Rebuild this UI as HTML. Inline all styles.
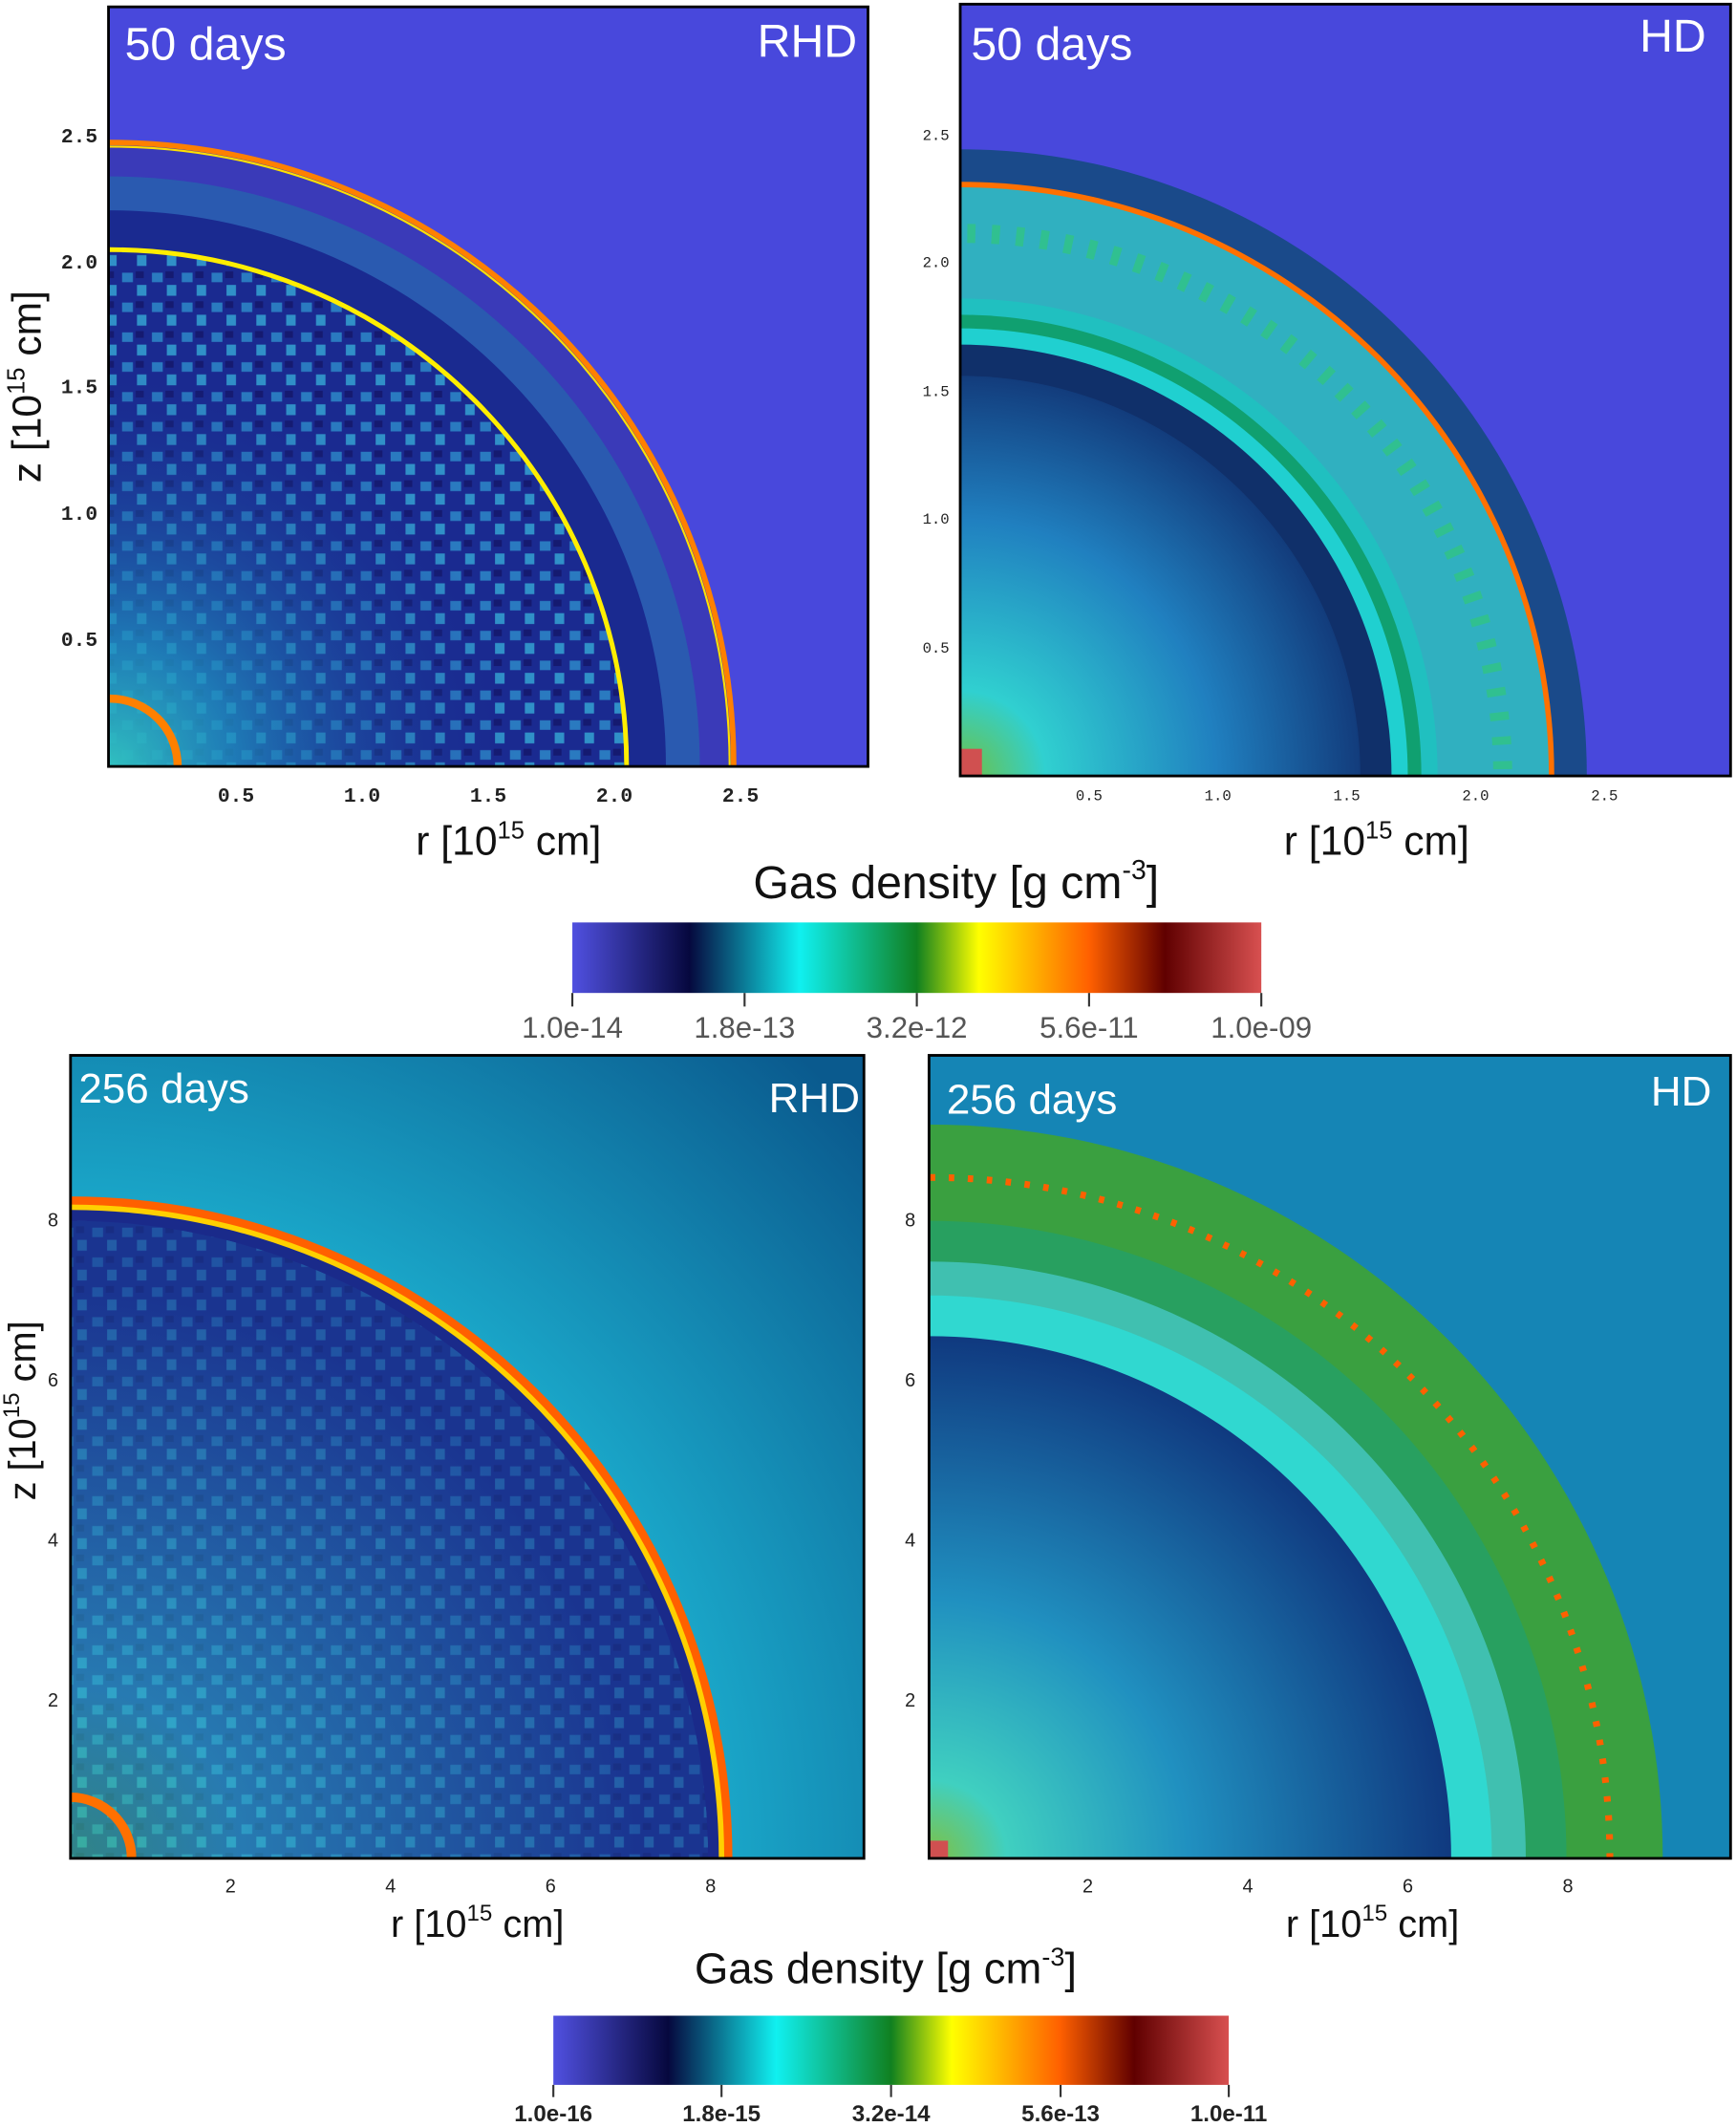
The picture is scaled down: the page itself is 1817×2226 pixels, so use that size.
<!DOCTYPE html>
<html><head><meta charset="utf-8"><style>html,body{margin:0;padding:0;background:#fff;width:1817px;height:2226px;overflow:hidden}svg{display:block}</style></head><body>
<svg width="1817" height="2226" viewBox="0 0 1280 1568" xmlns="http://www.w3.org/2000/svg" font-family="Liberation Sans, sans-serif">
<defs>
<linearGradient id="cmap" x1="0" x2="1" y1="0" y2="0">
<stop offset="0" stop-color="#5050e0"/><stop offset="0.17" stop-color="#06083e"/><stop offset="0.33" stop-color="#10f0f0"/><stop offset="0.5" stop-color="#108020"/><stop offset="0.59" stop-color="#ffff00"/><stop offset="0.75" stop-color="#ff6000"/><stop offset="0.86" stop-color="#600000"/><stop offset="1" stop-color="#d85050"/>
</linearGradient>
<pattern id="mott" width="22" height="22" patternUnits="userSpaceOnUse">
<rect width="22" height="22" fill="#1a2a90"/><rect x="2" y="3" width="8" height="7" fill="#2a7ac0"/><rect x="13" y="12" width="7" height="8" fill="#3090c8"/><rect x="12" y="2" width="6" height="5" fill="#151a70"/>
</pattern>
<radialGradient id="core1" cx="81" cy="565" r="300" gradientUnits="userSpaceOnUse">
<stop offset="0" stop-color="#30c0c0"/><stop offset="0.3" stop-color="#2090c0" stop-opacity="0.8"/><stop offset="1" stop-color="#1a2a90" stop-opacity="0"/></radialGradient>
<radialGradient id="bgBL" cx="52" cy="1370" r="800" gradientUnits="userSpaceOnUse">
<stop offset="0.55" stop-color="#1cb0d0"/><stop offset="1" stop-color="#0a5a8e"/></radialGradient>
<radialGradient id="core3" cx="52" cy="1370" r="420" gradientUnits="userSpaceOnUse">
<stop offset="0" stop-color="#40c080"/><stop offset="0.3" stop-color="#30b0c8"/><stop offset="1" stop-color="#1a3a90"/></radialGradient>
<radialGradient id="core4" cx="685" cy="1370" r="383" gradientUnits="userSpaceOnUse">
<stop offset="0" stop-color="#80c040"/><stop offset="0.15" stop-color="#40d0c0"/><stop offset="0.5" stop-color="#2090c0"/><stop offset="1" stop-color="#103a80"/></radialGradient>
<radialGradient id="core2" cx="708" cy="572" r="314" gradientUnits="userSpaceOnUse">
<stop offset="0" stop-color="#70c040"/><stop offset="0.2" stop-color="#30d0d0"/><stop offset="0.6" stop-color="#2080c0"/><stop offset="1" stop-color="#103070"/></radialGradient>
<clipPath id="c1"><rect x="80" y="5" width="560" height="560"/></clipPath>
<clipPath id="c2"><rect x="708" y="3" width="568" height="569"/></clipPath>
<clipPath id="c3"><rect x="52" y="778" width="585" height="592"/></clipPath>
<clipPath id="c4"><rect x="685" y="778" width="591" height="592"/></clipPath>
</defs>
<g clip-path="url(#c1)">
<rect x="80" y="5" width="560" height="560" fill="#4848dc"/>
<circle cx="81" cy="565" r="460" fill="#3a3ab8"/>
<circle cx="81" cy="565" r="435" fill="#2a5ab0"/>
<circle cx="81" cy="565" r="410" fill="#1a2a90"/>
<circle cx="81" cy="565" r="382" fill="url(#mott)"/>
<circle cx="81" cy="565" r="382" fill="url(#core1)"/>
<circle cx="81" cy="565" r="460" fill="none" stroke="#ff8000" stroke-width="4"/>
<circle cx="81" cy="565" r="457" fill="none" stroke="#ffe000" stroke-width="1.5"/>
<circle cx="81" cy="565" r="381" fill="none" stroke="#ffee00" stroke-width="3.5"/>
<circle cx="81" cy="565" r="50" fill="none" stroke="#ff8000" stroke-width="6"/>
</g>
<rect x="80" y="5" width="560" height="560" fill="none" stroke="#000" stroke-width="2"/>
<g clip-path="url(#c2)">
<rect x="708" y="3" width="568" height="569" fill="#4848dc"/>
<circle cx="708" cy="572" r="462" fill="#1a4a8a"/>
<circle cx="708" cy="572" r="438" fill="#ff7000"/>
<circle cx="708" cy="572" r="434" fill="#30b0c0"/>
<circle cx="708" cy="572" r="400" fill="none" stroke="#30c090" stroke-width="14" stroke-dasharray="6 12"/>
<circle cx="708" cy="572" r="352" fill="#20c0c0"/>
<circle cx="708" cy="572" r="340" fill="#10a070"/>
<circle cx="708" cy="572" r="330" fill="#20d0d0"/>
<circle cx="708" cy="572" r="318" fill="#10306a"/>
<circle cx="708" cy="572" r="295" fill="url(#core2)"/>
<rect x="708" y="552" width="16" height="20" fill="#d05050"/>
</g>
<rect x="708" y="3" width="568" height="569" fill="none" stroke="#000" stroke-width="2"/>
<g clip-path="url(#c3)">
<rect x="52" y="778" width="585" height="592" fill="url(#bgBL)"/>
<circle cx="52" cy="1370" r="488" fill="#ff6000"/>
<circle cx="52" cy="1370" r="482" fill="#ffd000"/>
<circle cx="52" cy="1370" r="478" fill="#1a2a8a"/>
<circle cx="52" cy="1370" r="470" fill="url(#mott)"/>
<circle cx="52" cy="1370" r="470" fill="url(#core3)" opacity="0.6"/>
<circle cx="52" cy="1370" r="45" fill="none" stroke="#ff7000" stroke-width="7"/>
</g>
<rect x="52" y="778" width="585" height="592" fill="none" stroke="#000" stroke-width="2"/>
<g clip-path="url(#c4)">
<rect x="685" y="778" width="591" height="592" fill="#1585b5"/>
<circle cx="685" cy="1370" r="541" fill="#3aa040"/>
<circle cx="685" cy="1370" r="502" fill="none" stroke="#ff6000" stroke-width="5" stroke-dasharray="4 10"/>
<circle cx="685" cy="1370" r="470" fill="#28a060"/>
<circle cx="685" cy="1370" r="440" fill="#40c0b0"/>
<circle cx="685" cy="1370" r="415" fill="#30d8d0"/>
<circle cx="685" cy="1370" r="385" fill="url(#core4)"/>
<rect x="685" y="1357" width="14" height="13" fill="#d05050"/>
</g>
<rect x="685" y="778" width="591" height="592" fill="none" stroke="#000" stroke-width="2"/>
<g fill="#fff" font-size="34">
<text x="92" y="44">50 days</text><text x="632" y="42" text-anchor="end">RHD</text>
<text x="716" y="44">50 days</text><text x="1258" y="38" text-anchor="end">HD</text>
<text x="58" y="813" font-size="31">256 days</text><text x="634" y="820" text-anchor="end" font-size="31">RHD</text>
<text x="698" y="821" font-size="31">256 days</text><text x="1262" y="815" text-anchor="end" font-size="31">HD</text>
</g>
<g font-family="Liberation Mono, monospace" font-weight="bold" font-size="15" fill="#222">
<text x="174" y="591" text-anchor="middle">0.5</text><text x="267" y="591" text-anchor="middle">1.0</text><text x="360" y="591" text-anchor="middle">1.5</text><text x="453" y="591" text-anchor="middle">2.0</text><text x="546" y="591" text-anchor="middle">2.5</text>
<text x="72" y="105" text-anchor="end">2.5</text><text x="72" y="198" text-anchor="end">2.0</text><text x="72" y="290" text-anchor="end">1.5</text><text x="72" y="383" text-anchor="end">1.0</text><text x="72" y="476" text-anchor="end">0.5</text>
</g>
<g font-family="Liberation Mono, monospace" font-size="11" fill="#222">
<text x="803" y="590" text-anchor="middle">0.5</text><text x="898" y="590" text-anchor="middle">1.0</text><text x="993" y="590" text-anchor="middle">1.5</text><text x="1088" y="590" text-anchor="middle">2.0</text><text x="1183" y="590" text-anchor="middle">2.5</text>
<text x="700" y="103" text-anchor="end">2.5</text><text x="700" y="197" text-anchor="end">2.0</text><text x="700" y="292" text-anchor="end">1.5</text><text x="700" y="386" text-anchor="end">1.0</text><text x="700" y="481" text-anchor="end">0.5</text>
</g>
<g font-size="14" fill="#222">
<text x="170" y="1395" text-anchor="middle">2</text><text x="288" y="1395" text-anchor="middle">4</text><text x="406" y="1395" text-anchor="middle">6</text><text x="524" y="1395" text-anchor="middle">8</text>
<text x="43" y="904" text-anchor="end">8</text><text x="43" y="1022" text-anchor="end">6</text><text x="43" y="1140" text-anchor="end">4</text><text x="43" y="1258" text-anchor="end">2</text>
<text x="802" y="1395" text-anchor="middle">2</text><text x="920" y="1395" text-anchor="middle">4</text><text x="1038" y="1395" text-anchor="middle">6</text><text x="1156" y="1395" text-anchor="middle">8</text>
<text x="675" y="904" text-anchor="end">8</text><text x="675" y="1022" text-anchor="end">6</text><text x="675" y="1140" text-anchor="end">4</text><text x="675" y="1258" text-anchor="end">2</text>
</g>
<g font-size="30" fill="#111">
<text x="375" y="630" text-anchor="middle">r [10<tspan font-size="18" dy="-12">15</tspan><tspan dy="12"> cm]</tspan></text>
<text x="1015" y="630" text-anchor="middle">r [10<tspan font-size="18" dy="-12">15</tspan><tspan dy="12"> cm]</tspan></text>
<text x="352" y="1428" text-anchor="middle" font-size="28">r [10<tspan font-size="17" dy="-12">15</tspan><tspan dy="12"> cm]</tspan></text>
<text x="1012" y="1428" text-anchor="middle" font-size="28">r [10<tspan font-size="17" dy="-12">15</tspan><tspan dy="12"> cm]</tspan></text>
<text transform="translate(30,285) rotate(-90)" text-anchor="middle">z [10<tspan font-size="18" dy="-12">15</tspan><tspan dy="12"> cm]</tspan></text>
<text transform="translate(26,1040) rotate(-90)" text-anchor="middle" font-size="28">z [10<tspan font-size="17" dy="-12">15</tspan><tspan dy="12"> cm]</tspan></text>
<text x="705" y="662" text-anchor="middle" font-size="34">Gas density [g cm<tspan font-size="20" dy="-14">-3</tspan><tspan dy="14">]</tspan></text>
<text x="653" y="1462" text-anchor="middle" font-size="32">Gas density [g cm<tspan font-size="19" dy="-13">-3</tspan><tspan dy="13">]</tspan></text>
</g>
<rect x="422" y="680" width="508" height="52" fill="url(#cmap)"/>
<g stroke="#333" stroke-width="1.5"><line x1="422" y1="732" x2="422" y2="742"/><line x1="549" y1="732" x2="549" y2="742"/><line x1="676" y1="732" x2="676" y2="742"/><line x1="803" y1="732" x2="803" y2="742"/><line x1="930" y1="732" x2="930" y2="742"/></g>
<g font-size="22" fill="#555" text-anchor="middle"><text x="422" y="765">1.0e-14</text><text x="549" y="765">1.8e-13</text><text x="676" y="765">3.2e-12</text><text x="803" y="765">5.6e-11</text><text x="930" y="765">1.0e-09</text></g>
<rect x="408" y="1486" width="498" height="51" fill="url(#cmap)"/>
<g stroke="#333" stroke-width="1.5"><line x1="408" y1="1537" x2="408" y2="1546"/><line x1="532" y1="1537" x2="532" y2="1546"/><line x1="657" y1="1537" x2="657" y2="1546"/><line x1="782" y1="1537" x2="782" y2="1546"/><line x1="906" y1="1537" x2="906" y2="1546"/></g>
<g font-size="17" font-weight="bold" fill="#222" text-anchor="middle"><text x="408" y="1564">1.0e-16</text><text x="532" y="1564">1.8e-15</text><text x="657" y="1564">3.2e-14</text><text x="782" y="1564">5.6e-13</text><text x="906" y="1564">1.0e-11</text></g>
</svg>
</body></html>
